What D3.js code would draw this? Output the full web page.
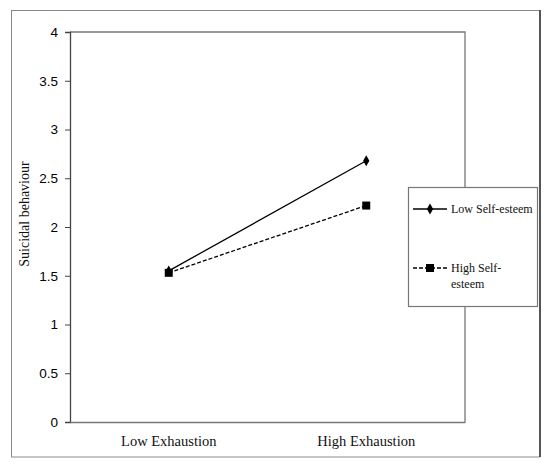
<!DOCTYPE html>
<html><head><meta charset="utf-8">
<script src="https://cdn.jsdelivr.net/npm/d3@7"></script>
<style>body{margin:0;background:#fff}svg{display:block}</style>
</head><body>
<script>
const categories = ["Low Exhaustion", "High Exhaustion"];
const seriesNames = ["Low Self-esteem", "High Self-esteem"];
const lowSelfEsteem = [1.55, 2.68];
const highSelfEsteem = [1.53, 2.22];
const yTicks = [0, 0.5, 1, 1.5, 2, 2.5, 3, 3.5, 4];

const W = 550, H = 465;
const svg = d3.select("body").append("svg").attr("width", W).attr("height", H);
const serif = "'Liberation Serif', 'DejaVu Serif', serif";
const sans = "'Liberation Sans', Arial, sans-serif";

// outer frame
svg.append("rect").attr("x", 11.5).attr("y", 10.5).attr("width", 528).attr("height", 446.5)
  .attr("fill", "none").attr("stroke", "#8a8a8a").attr("stroke-width", 1);
svg.append("line").attr("x1", 540).attr("x2", 540).attr("y1", 10).attr("y2", 457)
  .attr("stroke", "#555").attr("stroke-width", 2);

const L = 70, R = 465, T = 32, B = 422;
const x = d3.scaleBand().domain(categories).range([L, R]);
const y = d3.scaleLinear().domain([0, 4]).range([B, T]);

// plot border (top and right)
svg.append("path").attr("d", `M${L},${T}H${R}V${B}`).attr("fill", "none")
  .attr("stroke", "#777").attr("stroke-width", 1.3);

const yAxis = svg.append("g").attr("transform", `translate(${L},0)`)
  .call(d3.axisLeft(y).tickValues(yTicks).tickSize(5).tickFormat(d => String(d)));
yAxis.select(".domain").attr("stroke", "#444").attr("stroke-width", 1.3);
yAxis.selectAll(".tick line").attr("stroke", "#444");
yAxis.selectAll("text").attr("font-family", sans).attr("font-size", 13.5).attr("fill", "#000").attr("x", -12);

const xAxis = svg.append("g").attr("transform", `translate(0,${B})`)
  .call(d3.axisBottom(x).tickSize(0).tickPadding(14));
xAxis.select(".domain").attr("stroke", "#777").attr("stroke-width", 1.3);
xAxis.selectAll("text").attr("font-family", serif).attr("font-size", 14.5).attr("fill", "#111");

svg.append("text").attr("transform", `translate(29,214) rotate(-90)`)
  .attr("text-anchor", "middle").attr("font-family", serif).attr("font-size", 14)
  .attr("fill", "#111").text("Suicidal behaviour");

const cx = c => x(c) + x.bandwidth() / 2;
const line = d3.line().x((d, i) => cx(categories[i])).y(d => y(d));

svg.append("path").datum(lowSelfEsteem).attr("d", line).attr("fill", "none")
  .attr("stroke", "#000").attr("stroke-width", 1.3);
svg.append("path").datum(highSelfEsteem).attr("d", line).attr("fill", "none")
  .attr("stroke", "#000").attr("stroke-width", 1.3).attr("stroke-dasharray", "4,2");

const diamond = d3.symbol().type(d3.symbolDiamond).size(34);
const square = d3.symbol().type(d3.symbolSquare).size(64);

svg.selectAll(".dia").data(lowSelfEsteem).join("path")
  .attr("transform", (d, i) => `translate(${cx(categories[i])},${y(d)})`)
  .attr("d", diamond).attr("fill", "#000");
svg.selectAll(".sq").data(highSelfEsteem).join("path")
  .attr("transform", (d, i) => `translate(${cx(categories[i])},${y(d)})`)
  .attr("d", square).attr("fill", "#000");

// legend
const lg = svg.append("g");
lg.append("rect").attr("x", 408.5).attr("y", 187.5).attr("width", 129).attr("height", 119)
  .attr("fill", "#fff").attr("stroke", "#777").attr("stroke-width", 1.2);
const ly = [209, 268];
lg.append("line").attr("x1", 413).attr("x2", 447).attr("y1", ly[0]).attr("y2", ly[0]).attr("stroke", "#000").attr("stroke-width", 1.3);
lg.append("path").attr("transform", `translate(430,${ly[0]})`).attr("d", diamond).attr("fill", "#000");
lg.append("text").attr("x", 451).attr("y", ly[0] + 4).attr("font-family", serif).attr("font-size", 12).attr("fill", "#111").text(seriesNames[0]);
lg.append("line").attr("x1", 413).attr("x2", 447).attr("y1", ly[1]).attr("y2", ly[1]).attr("stroke", "#000").attr("stroke-width", 1.3).attr("stroke-dasharray", "4,2");
lg.append("path").attr("transform", `translate(430,${ly[1]})`).attr("d", square).attr("fill", "#000");
const t2 = lg.append("text").attr("font-family", serif).attr("font-size", 12).attr("fill", "#111");
t2.append("tspan").attr("x", 451).attr("y", ly[1] + 4).text("High Self-");
t2.append("tspan").attr("x", 451).attr("y", ly[1] + 20).text("esteem");
</script>
</body></html>
